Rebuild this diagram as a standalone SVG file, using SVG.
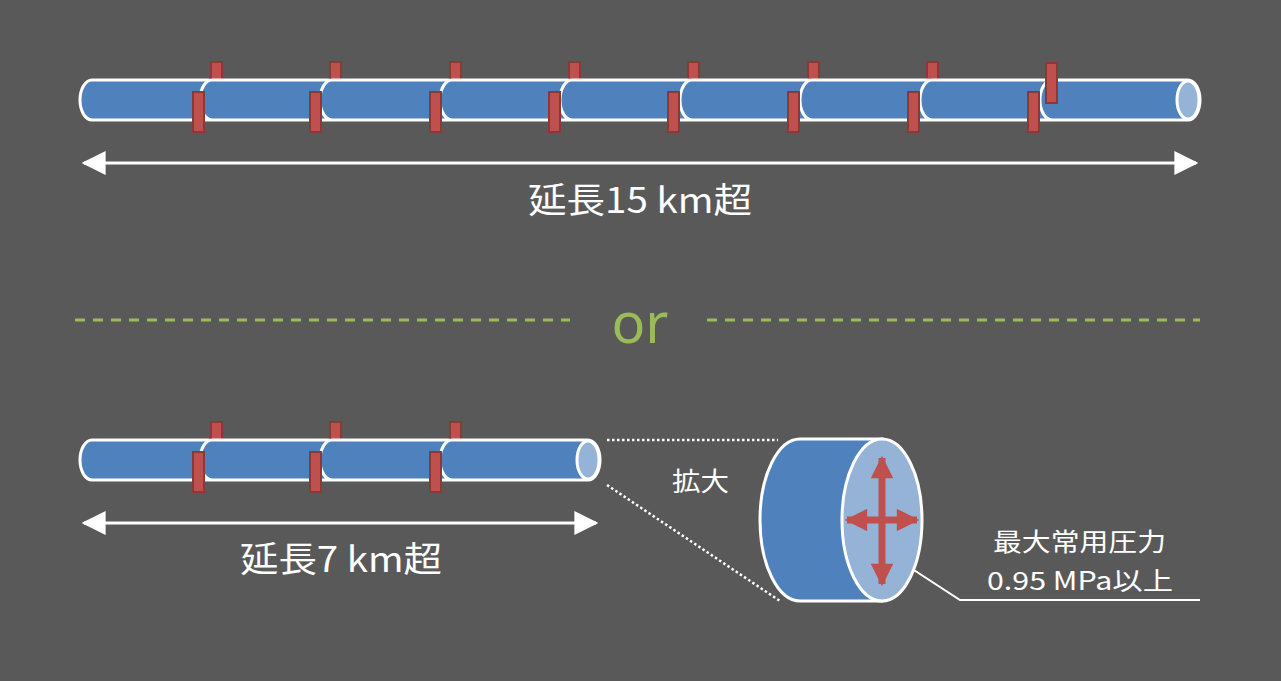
<svg xmlns="http://www.w3.org/2000/svg" width="1281" height="681" viewBox="0 0 1281 681">
<defs><style>
.seg{fill:#4f81bd;stroke:#fff;stroke-width:3}
.end{fill:#95b3d7;stroke:#fff;stroke-width:3}
.fl{fill:#c0504d;stroke:#8c3836;stroke-width:2}
.t{font-family:"Noto Sans CJK JP","Noto Sans",sans-serif;fill:#fff}
</style>
<marker id="ah" viewBox="0 0 10 10" refX="9" refY="5" markerWidth="8" markerHeight="8" orient="auto-start-reverse"><path d="M0,0L10,5L0,10z" fill="#fff"/></marker>
<marker id="rh" viewBox="0 0 10 10" refX="9" refY="5" markerWidth="3.5" markerHeight="3.2" orient="auto-start-reverse"><path d="M0,0L10,5L0,10z" fill="#c0504d"/></marker>
</defs>
<rect width="1281" height="681" fill="#595959"/>
<g id="pipe-long">
<g class="fl"><rect x="211" y="62" width="11" height="30"/><rect x="330" y="62" width="11" height="30"/><rect x="450" y="62" width="11" height="30"/><rect x="569" y="62" width="11" height="30"/><rect x="688" y="62" width="11" height="30"/><rect x="808" y="62" width="11" height="30"/><rect x="927" y="62" width="11" height="30"/></g>
<rect class="seg" x="80" y="80" width="140" height="40" rx="12" ry="20"/>
<rect class="seg" x="200" y="80" width="140" height="40" rx="12" ry="20"/>
<rect class="seg" x="320" y="80" width="140" height="40" rx="12" ry="20"/>
<rect class="seg" x="440" y="80" width="140" height="40" rx="12" ry="20"/>
<rect class="seg" x="560" y="80" width="140" height="40" rx="12" ry="20"/>
<rect class="seg" x="680" y="80" width="140" height="40" rx="12" ry="20"/>
<rect class="seg" x="800" y="80" width="140" height="40" rx="12" ry="20"/>
<rect class="seg" x="920" y="80" width="140" height="40" rx="12" ry="20"/>
<rect class="seg" x="1040" y="80" width="160" height="40" rx="12" ry="20"/>
<ellipse class="end" cx="1188" cy="100" rx="11" ry="19"/>
<g class="fl"><rect x="193" y="92" width="11" height="40"/><rect x="310" y="92" width="11" height="40"/><rect x="430" y="92" width="11" height="40"/><rect x="549" y="92" width="11" height="40"/><rect x="668" y="92" width="11" height="40"/><rect x="788" y="92" width="11" height="40"/><rect x="908" y="92" width="11" height="40"/><rect x="1028" y="92" width="11" height="40"/><rect x="1046" y="63" width="11" height="40"/></g>
</g>
<g id="pipe-short">
<g class="fl"><rect x="211" y="422" width="11" height="30"/><rect x="330" y="422" width="11" height="30"/><rect x="450" y="422" width="11" height="30"/></g>
<rect class="seg" x="80" y="440" width="140" height="40" rx="12" ry="20"/>
<rect class="seg" x="200" y="440" width="140" height="40" rx="12" ry="20"/>
<rect class="seg" x="320" y="440" width="140" height="40" rx="12" ry="20"/>
<rect class="seg" x="440" y="440" width="160" height="40" rx="12" ry="20"/>
<ellipse class="end" cx="588" cy="460" rx="11" ry="19"/>
<g class="fl"><rect x="193" y="452" width="11" height="40"/><rect x="310" y="452" width="11" height="40"/><rect x="430" y="452" width="11" height="40"/></g>
</g>
<g id="connectors" fill="none">
<line x1="84" y1="163" x2="1196" y2="163" stroke="#fff" stroke-width="3" marker-start="url(#ah)" marker-end="url(#ah)"/>
<line x1="84" y1="523" x2="596" y2="523" stroke="#fff" stroke-width="3" marker-start="url(#ah)" marker-end="url(#ah)"/>
<line x1="75" y1="320" x2="570" y2="320" stroke="#9bbb59" stroke-width="3" stroke-dasharray="10 8"/>
<line x1="707" y1="320" x2="1200" y2="320" stroke="#9bbb59" stroke-width="3" stroke-dasharray="10 8"/>
<line x1="607" y1="440" x2="778" y2="440" stroke="#fff" stroke-width="2.5" stroke-dasharray="2.5 2.5"/>
<line x1="607" y1="485" x2="780" y2="601" stroke="#fff" stroke-width="2.5" stroke-dasharray="2.5 2.5"/>
<polyline points="900,561 960,600 1200,600" stroke="#fff" stroke-width="2"/>
</g>
<g id="cylinder">
<path d="M800,439 H882 V601 H800 A40,81 0 0 1 800,439 Z" fill="#4f81bd" stroke="#fff" stroke-width="3"/>
<ellipse class="end" cx="882" cy="520" rx="40" ry="81"/>
<g stroke="#c0504d" stroke-width="7" fill="none">
<line x1="882" y1="458" x2="882" y2="584" marker-start="url(#rh)" marker-end="url(#rh)"/>
<line x1="847" y1="520" x2="917" y2="520" marker-start="url(#rh)" marker-end="url(#rh)"/>
</g>
</g>
<g id="labels">
<text class="t" x="528" y="213" font-size="35" textLength="224" lengthAdjust="spacingAndGlyphs">延長15 km超</text>
<text class="t" x="240" y="572" font-size="35" textLength="202" lengthAdjust="spacingAndGlyphs">延長7 km超</text>
<text x="640" y="343" font-size="56" text-anchor="middle" font-family="'Noto Sans',sans-serif" fill="#9bbb59">or</text>
<text class="t" x="672" y="491" font-size="26" textLength="57" lengthAdjust="spacingAndGlyphs">拡大</text>
<text class="t" x="993" y="551" font-size="25" textLength="173" lengthAdjust="spacingAndGlyphs">最大常用圧力</text>
<text class="t" x="987" y="590" font-size="25" textLength="186" lengthAdjust="spacingAndGlyphs">0.95 MPa以上</text>
</g>
</svg>
